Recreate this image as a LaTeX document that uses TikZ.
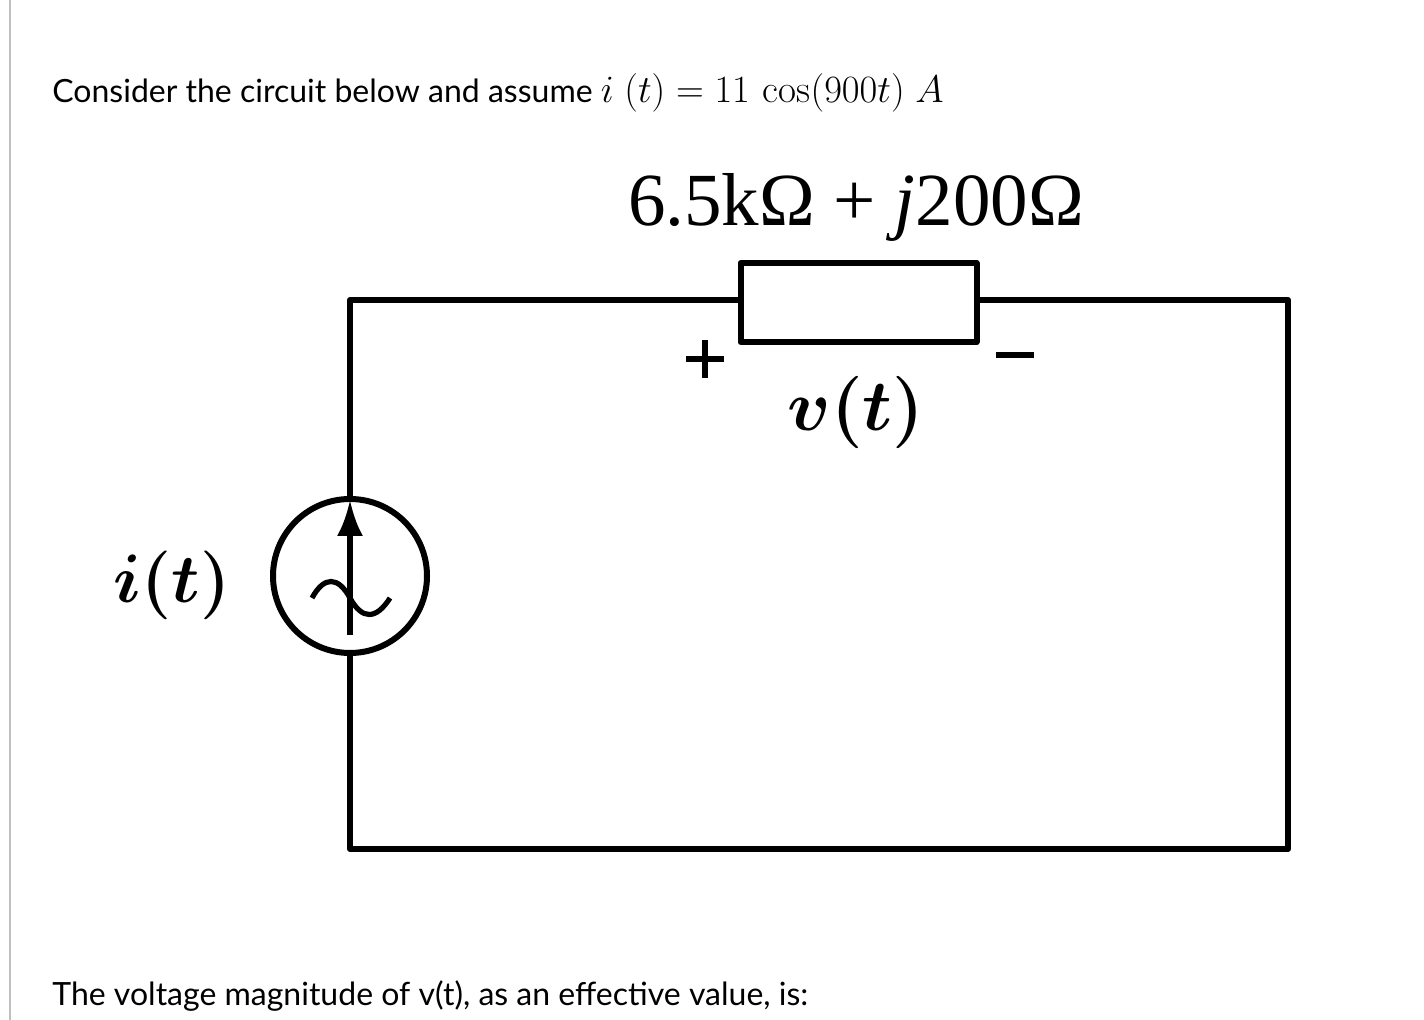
\documentclass[tikz,border=0pt]{standalone}
\usetikzlibrary{arrows.meta}
\usepackage{fontspec}
\newfontfamily\lato{Lato}
\newfontfamily\tms{Liberation Serif}
\begin{document}
\begin{tikzpicture}[x=0.5pt,y=-0.5pt,
  wire/.style={line width=3pt,line cap=round,line join=round}]
\useasboundingbox (0,0) rectangle (1424,1020);
\draw[gray!50,line width=1pt] (10,0) -- (10,1020);
\node[anchor=base west,inner sep=0,font=\lato\fontsize{16}{19}\selectfont] (q) at (52,103) {Consider the circuit below and assume {\fontsize{21}{24}\selectfont\scalebox{0.93}{$i\;(t)=11\,\cos(900t)\;A$}}};
\node[anchor=base west,inner sep=0,font=\lato\fontsize{16}{19}\selectfont] (a) at (52,1005) {The voltage magnitude of v(t), as an effective value, is:};
\node[draw,wire,minimum width=118pt,minimum height=39.5pt,inner sep=0] (R) at (858.5,302.5) {};
\node[draw,wire,circle,minimum size=77pt,inner sep=0] (S) at (350,576) {};
\coordinate (tl) at (350,300); \coordinate (tr) at (1288,300);
\coordinate (br) at (1288,849); \coordinate (bl) at (350,849);
\draw[wire] (S.north) -- (tl) -- (R.west|-tl);
\draw[wire] (R.east|-tr) -- (tr) -- (br) -- (bl) -- (S.south);
\draw[line width=2.6pt,-{Latex[length=18pt,width=13pt]}] (350,635) -- (350,500);
\draw[line width=2.6pt] (312,598) .. controls (324,576) and (338,576) .. (350,598) .. controls (362,620) and (376,620) .. (390,598);
\node[font=\tms\fontsize{37.5}{42}\selectfont] (lab) at (856,207) {6.5kΩ + \textit{j}200Ω};
\draw[line width=3pt] (705,340) -- (705,378) (686,359) -- (724,359);
\coordinate (p) at (705,359);
\draw[line width=3pt] (996,355) -- (1034,355);
\node[font=\fontsize{24.88}{28}\selectfont\boldmath,scale=1.45] (v) at (856,412) {$v(t)$};
\node[font=\fontsize{24.88}{28}\selectfont\boldmath,scale=1.38] (i) at (172,585) {$i(t)$};
\end{tikzpicture}
\end{document}
